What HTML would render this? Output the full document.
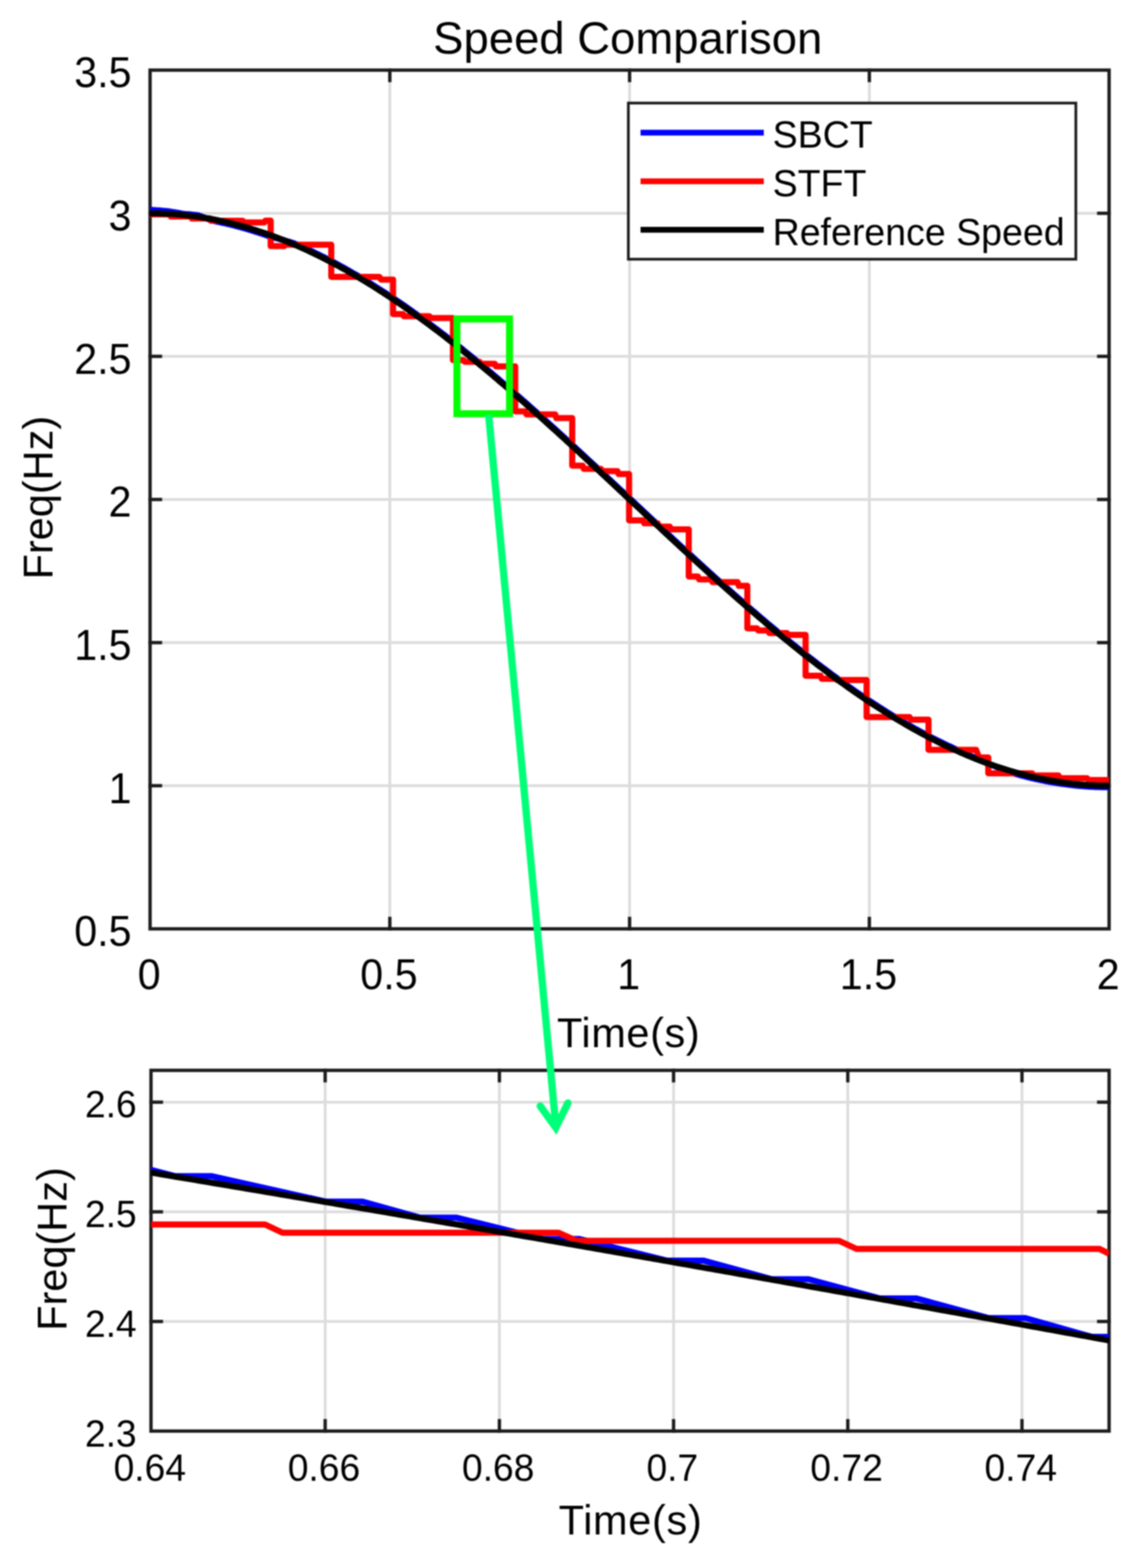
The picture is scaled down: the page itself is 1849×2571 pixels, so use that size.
<!DOCTYPE html>
<html><head><meta charset="utf-8"><title>Speed Comparison</title><style>html,body{margin:0;padding:0;background:#fff;}svg{display:block;filter:blur(0.9px);}</style></head><body>
<svg width="1849" height="2571" viewBox="0 0 1849 2571">
<rect x="0" y="0" width="1849" height="2571" fill="#ffffff"/>
<defs><clipPath id="c1"><rect x="246.0" y="95.0" width="1572.0" height="1428.0"/></clipPath><clipPath id="c2"><rect x="247.5" y="1755.0" width="1570.5" height="591.5"/></clipPath></defs>
<g stroke="#dcdcdc" stroke-width="4.5"><line x1="639.0" y1="115.0" x2="639.0" y2="1523.0"/><line x1="1032.0" y1="115.0" x2="1032.0" y2="1523.0"/><line x1="1425.0" y1="115.0" x2="1425.0" y2="1523.0"/><line x1="246.0" y1="1288.3" x2="1818.0" y2="1288.3"/><line x1="246.0" y1="1053.7" x2="1818.0" y2="1053.7"/><line x1="246.0" y1="819.0" x2="1818.0" y2="819.0"/><line x1="246.0" y1="584.3" x2="1818.0" y2="584.3"/><line x1="246.0" y1="349.7" x2="1818.0" y2="349.7"/></g>
<g stroke="#dcdcdc" stroke-width="4.5"><line x1="533.0" y1="1755.0" x2="533.0" y2="2346.5"/><line x1="818.6" y1="1755.0" x2="818.6" y2="2346.5"/><line x1="1104.1" y1="1755.0" x2="1104.1" y2="2346.5"/><line x1="1389.7" y1="1755.0" x2="1389.7" y2="2346.5"/><line x1="1675.2" y1="1755.0" x2="1675.2" y2="2346.5"/><line x1="247.5" y1="2166.8" x2="1818.0" y2="2166.8"/><line x1="247.5" y1="1987.0" x2="1818.0" y2="1987.0"/><line x1="247.5" y1="1807.2" x2="1818.0" y2="1807.2"/></g>
<g stroke="#1c1c1c" stroke-width="5.5" stroke-linecap="square"><rect x="246.0" y="115.0" width="1572.0" height="1408.0" fill="none"/><line x1="639.0" y1="1523.0" x2="639.0" y2="1506.0"/><line x1="639.0" y1="115.0" x2="639.0" y2="132.0"/><line x1="1032.0" y1="1523.0" x2="1032.0" y2="1506.0"/><line x1="1032.0" y1="115.0" x2="1032.0" y2="132.0"/><line x1="1425.0" y1="1523.0" x2="1425.0" y2="1506.0"/><line x1="1425.0" y1="115.0" x2="1425.0" y2="132.0"/><line x1="246.0" y1="1288.3" x2="263.0" y2="1288.3"/><line x1="1818.0" y1="1288.3" x2="1801.0" y2="1288.3"/><line x1="246.0" y1="1053.7" x2="263.0" y2="1053.7"/><line x1="1818.0" y1="1053.7" x2="1801.0" y2="1053.7"/><line x1="246.0" y1="819.0" x2="263.0" y2="819.0"/><line x1="1818.0" y1="819.0" x2="1801.0" y2="819.0"/><line x1="246.0" y1="584.3" x2="263.0" y2="584.3"/><line x1="1818.0" y1="584.3" x2="1801.0" y2="584.3"/><line x1="246.0" y1="349.7" x2="263.0" y2="349.7"/><line x1="1818.0" y1="349.7" x2="1801.0" y2="349.7"/></g>
<g stroke="#1c1c1c" stroke-width="5.5" stroke-linecap="square"><rect x="247.5" y="1755.0" width="1570.5" height="591.5" fill="none"/><line x1="533.0" y1="2346.5" x2="533.0" y2="2329.5"/><line x1="533.0" y1="1755.0" x2="533.0" y2="1772.0"/><line x1="818.6" y1="2346.5" x2="818.6" y2="2329.5"/><line x1="818.6" y1="1755.0" x2="818.6" y2="1772.0"/><line x1="1104.1" y1="2346.5" x2="1104.1" y2="2329.5"/><line x1="1104.1" y1="1755.0" x2="1104.1" y2="1772.0"/><line x1="1389.7" y1="2346.5" x2="1389.7" y2="2329.5"/><line x1="1389.7" y1="1755.0" x2="1389.7" y2="1772.0"/><line x1="1675.2" y1="2346.5" x2="1675.2" y2="2329.5"/><line x1="1675.2" y1="1755.0" x2="1675.2" y2="1772.0"/><line x1="247.5" y1="2166.8" x2="264.5" y2="2166.8"/><line x1="1818.0" y1="2166.8" x2="1801.0" y2="2166.8"/><line x1="247.5" y1="1987.0" x2="264.5" y2="1987.0"/><line x1="1818.0" y1="1987.0" x2="1801.0" y2="1987.0"/><line x1="247.5" y1="1807.2" x2="264.5" y2="1807.2"/><line x1="1818.0" y1="1807.2" x2="1801.0" y2="1807.2"/></g>
<g clip-path="url(#c1)" fill="none" stroke-width="10" stroke-linejoin="round">
<polyline stroke="#0000ff" points="246.0,344.2 249.1,344.3 252.3,344.5 255.4,344.7 258.6,344.9 261.7,345.1 264.9,345.4 268.0,345.7 271.2,346.0 274.3,346.3 277.4,346.6 280.6,347.1 283.7,347.6 286.9,348.1 290.0,348.7 293.2,349.2 296.3,349.8 299.4,350.4 302.6,350.8 305.7,351.1 308.9,351.3 312.0,351.6 315.2,351.9 318.3,352.2 321.5,352.6 324.6,352.9 327.7,354.1 330.9,355.2 334.0,356.4 337.2,357.6 340.3,358.8 343.5,360.0 346.6,361.3 349.8,362.2 352.9,362.8 356.0,363.5 359.2,364.1 362.3,364.8 365.5,365.5 368.6,366.2 371.8,366.9 374.9,367.7 378.0,368.4 381.2,369.2 384.3,370.0 387.5,370.8 390.6,371.6 393.8,372.5 396.9,373.4 400.1,374.2 403.2,375.1 406.3,376.1 409.5,377.0 412.6,378.0 415.8,378.9 418.9,379.9 422.1,380.9 425.2,381.9 428.4,383.0 431.5,384.0 434.6,385.1 437.8,386.2 440.9,387.3 444.1,388.3 447.2,389.1 450.4,389.9 453.5,390.7 456.6,391.5 459.8,392.4 462.9,393.2 466.1,394.1 469.2,395.0 472.4,396.0 475.5,396.9 478.7,397.9 481.8,398.8 484.9,400.2 488.1,401.5 491.2,402.9 494.4,404.3 497.5,405.7 500.7,407.1 503.8,408.6 507.0,410.1 510.1,411.5 513.2,413.0 516.4,414.5 519.5,416.1 522.7,417.6 525.8,419.2 529.0,420.7 532.1,422.3 535.2,423.9 538.4,425.5 541.5,427.2 544.7,428.8 547.8,430.5 551.0,432.2 554.1,433.9 557.3,435.6 560.4,437.3 563.5,439.0 566.7,440.8 569.8,442.6 573.0,444.4 576.1,446.2 579.3,448.0 582.4,449.8 585.6,451.6 588.7,453.5 591.8,455.4 595.0,457.3 598.1,459.2 601.3,461.1 604.4,463.0 607.6,464.9 610.7,466.9 613.8,468.9 617.0,470.9 620.1,472.9 623.3,474.9 626.4,476.9 629.6,478.9 632.7,481.0 635.9,483.1 639.0,485.1 642.1,487.2 645.3,489.3 648.4,491.4 651.6,493.6 654.7,495.7 657.9,497.9 661.0,500.0 664.2,502.2 667.3,504.4 670.4,506.6 673.6,508.8 676.7,511.1 679.9,513.3 683.0,515.6 686.2,517.8 689.3,520.1 692.4,522.4 695.6,524.7 698.7,527.0 701.9,529.3 705.0,531.7 708.2,534.0 711.3,536.4 714.5,538.8 717.6,541.1 720.7,543.5 723.9,545.9 727.0,548.3 730.2,550.8 733.3,553.2 736.5,555.6 739.6,558.1 742.8,560.6 745.9,563.0 749.0,565.5 752.2,568.0 755.3,570.5 758.5,573.0 761.6,575.6 764.8,578.1 767.9,580.6 771.0,583.2 774.2,585.7 777.3,588.3 780.5,590.9 783.6,593.5 786.8,596.1 789.9,598.7 793.1,601.3 796.2,603.9 799.3,606.6 802.5,609.2 805.6,611.8 808.8,614.5 811.9,617.2 815.1,619.8 818.2,622.5 821.4,625.2 824.5,627.9 827.6,630.6 830.8,633.3 833.9,636.0 837.1,638.8 840.2,641.5 843.4,644.2 846.5,647.0 849.6,649.7 852.8,652.5 855.9,655.2 859.1,658.0 862.2,660.8 865.4,663.6 868.5,666.4 871.7,669.2 874.8,672.0 877.9,674.8 881.1,677.6 884.2,680.4 887.4,683.2 890.5,686.1 893.7,688.9 896.8,691.7 900.0,694.6 903.1,697.4 906.2,700.3 909.4,703.1 912.5,706.0 915.7,708.9 918.8,711.7 922.0,714.6 925.1,717.5 928.2,720.4 931.4,723.3 934.5,726.2 937.7,729.1 940.8,732.0 944.0,734.9 947.1,737.8 950.3,740.7 953.4,743.6 956.5,746.5 959.7,749.4 962.8,752.3 966.0,755.3 969.1,758.2 972.3,761.1 975.4,764.0 978.6,767.0 981.7,769.9 984.8,772.8 988.0,775.8 991.1,778.7 994.3,781.6 997.4,784.6 1000.6,787.5 1003.7,790.5 1006.8,793.4 1010.0,796.4 1013.1,799.3 1016.3,802.3 1019.4,805.2 1022.6,808.2 1025.7,811.1 1028.9,814.1 1032.0,817.0 1035.1,819.9 1038.3,822.9 1041.4,825.8 1044.6,828.8 1047.7,831.7 1050.9,834.7 1054.0,837.6 1057.2,840.6 1060.3,843.5 1063.4,846.5 1066.6,849.4 1069.7,852.4 1072.9,855.3 1076.0,858.2 1079.2,861.2 1082.3,864.1 1085.4,867.0 1088.6,870.0 1091.7,872.9 1094.9,875.8 1098.0,878.7 1101.2,881.7 1104.3,884.6 1107.5,887.5 1110.6,890.4 1113.7,893.3 1116.9,896.2 1120.0,899.1 1123.2,902.0 1126.3,904.9 1129.5,907.8 1132.6,910.7 1135.8,913.6 1138.9,916.5 1142.0,919.4 1145.2,922.3 1148.3,925.1 1151.5,928.0 1154.6,930.9 1157.8,933.7 1160.9,936.6 1164.0,939.4 1167.2,942.3 1170.3,945.1 1173.5,947.9 1176.6,950.8 1179.8,953.6 1182.9,956.4 1186.1,959.2 1189.2,962.0 1192.3,964.8 1195.5,967.6 1198.6,970.4 1201.8,973.2 1204.9,976.0 1208.1,978.8 1211.2,981.5 1214.4,984.3 1217.5,987.0 1220.6,989.8 1223.8,992.5 1226.9,995.2 1230.1,998.0 1233.2,1000.7 1236.4,1003.4 1239.5,1006.1 1242.6,1008.8 1245.8,1011.5 1248.9,1014.2 1252.1,1016.8 1255.2,1019.5 1258.4,1022.2 1261.5,1024.8 1264.7,1027.4 1267.8,1030.1 1270.9,1032.7 1274.1,1035.3 1277.2,1037.9 1280.4,1040.5 1283.5,1043.1 1286.7,1045.7 1289.8,1048.3 1293.0,1050.8 1296.1,1053.4 1299.2,1055.9 1302.4,1058.4 1305.5,1061.0 1308.7,1063.5 1311.8,1066.0 1315.0,1068.5 1318.1,1071.0 1321.2,1073.4 1324.4,1075.9 1327.5,1078.4 1330.7,1080.8 1333.8,1083.2 1337.0,1085.7 1340.1,1088.1 1343.3,1090.5 1346.4,1092.9 1349.5,1095.2 1352.7,1097.6 1355.8,1100.0 1359.0,1102.3 1362.1,1104.7 1365.3,1107.0 1368.4,1109.3 1371.6,1111.6 1374.7,1113.9 1377.8,1116.2 1381.0,1118.4 1384.1,1120.7 1387.3,1122.9 1390.4,1125.2 1393.6,1127.4 1396.7,1129.6 1399.8,1131.8 1403.0,1134.0 1406.1,1136.1 1409.3,1138.3 1412.4,1140.4 1415.6,1142.6 1418.7,1144.7 1421.9,1146.8 1425.0,1148.9 1428.1,1150.9 1431.3,1153.0 1434.4,1155.1 1437.6,1157.1 1440.7,1159.1 1443.9,1161.1 1447.0,1163.1 1450.2,1165.1 1453.3,1167.1 1456.4,1169.1 1459.6,1171.0 1462.7,1172.9 1465.9,1174.8 1469.0,1176.7 1472.2,1178.6 1475.3,1180.5 1478.4,1182.4 1481.6,1184.2 1484.7,1186.0 1487.9,1187.8 1491.0,1189.6 1494.2,1191.4 1497.3,1193.2 1500.5,1195.0 1503.6,1196.7 1506.7,1198.4 1509.9,1200.1 1513.0,1201.8 1516.2,1203.5 1519.3,1205.2 1522.5,1206.8 1525.6,1208.5 1528.8,1210.1 1531.9,1211.7 1535.0,1213.3 1538.2,1214.8 1541.3,1216.4 1544.5,1217.9 1547.6,1219.5 1550.8,1221.0 1553.9,1222.5 1557.0,1223.9 1560.2,1225.4 1563.3,1226.9 1566.5,1228.3 1569.6,1229.7 1572.8,1231.1 1575.9,1232.5 1579.1,1233.8 1582.2,1235.2 1585.3,1236.7 1588.5,1238.1 1591.6,1239.6 1594.8,1241.0 1597.9,1242.5 1601.1,1243.9 1604.2,1245.3 1607.4,1246.6 1610.5,1248.0 1613.6,1249.3 1616.8,1250.7 1619.9,1252.0 1623.1,1253.3 1626.2,1254.6 1629.4,1255.9 1632.5,1257.2 1635.6,1258.4 1638.8,1259.7 1641.9,1260.9 1645.1,1262.1 1648.2,1263.3 1651.4,1264.4 1654.5,1265.6 1657.7,1266.7 1660.8,1267.9 1663.9,1268.8 1667.1,1269.6 1670.2,1270.5 1673.4,1271.4 1676.5,1272.2 1679.7,1273.0 1682.8,1273.8 1686.0,1274.6 1689.1,1275.3 1692.2,1276.1 1695.4,1276.8 1698.5,1277.5 1701.7,1278.2 1704.8,1278.9 1708.0,1279.5 1711.1,1280.2 1714.2,1280.8 1717.4,1281.4 1720.5,1282.0 1723.7,1282.5 1726.8,1283.1 1730.0,1283.6 1733.1,1284.1 1736.3,1284.6 1739.4,1285.1 1742.5,1285.5 1745.7,1285.9 1748.8,1286.4 1752.0,1286.8 1755.1,1287.1 1758.3,1287.5 1761.4,1287.8 1764.6,1288.2 1767.7,1288.5 1770.8,1288.8 1774.0,1289.0 1777.1,1289.3 1780.3,1289.5 1783.4,1289.7 1786.6,1289.9 1789.7,1290.1 1792.8,1290.2 1796.0,1290.4 1799.1,1290.5 1802.3,1290.6 1805.4,1290.7 1808.6,1290.7 1811.7,1290.8 1814.9,1290.8 1818.0,1290.8"/>
<polyline stroke="#ff0000" points="246.0,351.6 279.0,351.6 280.0,355.0 313.5,355.0 314.5,358.3 344.5,358.3 346.0,362.0 398.0,362.0 399.5,364.7 433.5,364.7 435.0,361.8 443.7,361.8 443.7,403.6 466.0,403.6 468.0,401.2 543.0,401.2 543.0,454.0 622.0,454.0 624.5,458.4 644.3,458.4 644.3,515.0 660.5,515.0 662.0,518.5 704.0,518.5 705.5,521.6 742.5,521.6 742.5,590.5 760.0,590.5 762.0,593.3 786.0,593.3 788.0,596.4 811.0,596.4 813.0,600.7 844.5,600.7 844.5,674.5 861.0,674.5 863.0,679.5 910.0,679.5 912.0,685.6 938.0,685.6 938.0,763.5 955.0,763.5 957.0,768.7 985.0,768.7 987.0,772.5 1012.0,772.5 1014.0,777.3 1031.2,777.3 1031.2,853.2 1054.0,853.2 1056.0,858.0 1078.0,858.0 1080.0,863.5 1098.0,863.5 1100.0,868.0 1129.0,868.0 1129.0,945.3 1144.0,945.3 1146.0,950.0 1166.0,950.0 1168.0,954.5 1209.0,954.5 1211.0,960.6 1225.0,960.6 1225.0,1030.2 1241.0,1030.2 1243.0,1033.7 1259.0,1033.7 1261.0,1038.0 1290.0,1038.0 1292.0,1041.0 1320.5,1041.0 1320.5,1108.0 1345.0,1108.0 1347.0,1113.0 1370.0,1113.0 1372.0,1115.0 1420.5,1115.0 1420.5,1175.8 1491.0,1175.8 1493.0,1180.0 1522.0,1180.0 1522.0,1229.5 1600.0,1229.5 1605.0,1242.0 1620.0,1242.0 1620.0,1268.0 1692.0,1268.0 1694.0,1271.5 1735.0,1271.5 1737.0,1276.0 1782.0,1276.0 1784.0,1279.0 1818.0,1279.0"/>
<polyline stroke="#000000" points="246.0,349.7 249.9,349.7 253.9,349.7 257.8,349.8 261.7,349.9 265.6,350.0 269.6,350.2 273.5,350.4 277.4,350.6 281.4,350.8 285.3,351.1 289.2,351.4 293.2,351.7 297.1,352.1 301.0,352.5 304.9,352.9 308.9,353.4 312.8,353.8 316.7,354.3 320.7,354.9 324.6,355.4 328.5,356.0 332.5,356.7 336.4,357.3 340.3,358.0 344.2,358.7 348.2,359.4 352.1,360.2 356.0,361.0 360.0,361.8 363.9,362.6 367.8,363.5 371.8,364.4 375.7,365.3 379.6,366.3 383.5,367.3 387.5,368.3 391.4,369.3 395.3,370.4 399.3,371.5 403.2,372.6 407.1,373.8 411.1,375.0 415.0,376.2 418.9,377.4 422.9,378.7 426.8,380.0 430.7,381.3 434.6,382.6 438.6,384.0 442.5,385.4 446.4,386.8 450.4,388.3 454.3,389.7 458.2,391.2 462.1,392.8 466.1,394.3 470.0,395.9 473.9,397.5 477.9,399.2 481.8,400.8 485.7,402.5 489.7,404.2 493.6,406.0 497.5,407.7 501.5,409.5 505.4,411.3 509.3,413.2 513.2,415.0 517.2,416.9 521.1,418.8 525.0,420.8 529.0,422.7 532.9,424.7 536.8,426.7 540.8,428.8 544.7,430.8 548.6,432.9 552.5,435.0 556.5,437.1 560.4,439.3 564.3,441.5 568.3,443.7 572.2,445.9 576.1,448.2 580.0,450.4 584.0,452.7 587.9,455.0 591.8,457.4 595.8,459.7 599.7,462.1 603.6,464.5 607.6,466.9 611.5,469.4 615.4,471.9 619.3,474.4 623.3,476.9 627.2,479.4 631.1,482.0 635.1,484.5 639.0,487.1 642.9,489.7 646.9,492.4 650.8,495.0 654.7,497.7 658.7,500.4 662.6,503.1 666.5,505.9 670.4,508.6 674.4,511.4 678.3,514.2 682.2,517.0 686.2,519.8 690.1,522.7 694.0,525.6 698.0,528.4 701.9,531.3 705.8,534.3 709.7,537.2 713.7,540.2 717.6,543.1 721.5,546.1 725.5,549.1 729.4,552.2 733.3,555.2 737.2,558.3 741.2,561.3 745.1,564.4 749.0,567.5 753.0,570.6 756.9,573.8 760.8,576.9 764.8,580.1 768.7,583.3 772.6,586.5 776.6,589.7 780.5,592.9 784.4,596.1 788.3,599.4 792.3,602.6 796.2,605.9 800.1,609.2 804.1,612.5 808.0,615.8 811.9,619.2 815.9,622.5 819.8,625.9 823.7,629.2 827.6,632.6 831.6,636.0 835.5,639.4 839.4,642.8 843.4,646.2 847.3,649.7 851.2,653.1 855.1,656.6 859.1,660.0 863.0,663.5 866.9,667.0 870.9,670.5 874.8,674.0 878.7,677.5 882.7,681.0 886.6,684.5 890.5,688.1 894.4,691.6 898.4,695.2 902.3,698.7 906.2,702.3 910.2,705.9 914.1,709.4 918.0,713.0 922.0,716.6 925.9,720.2 929.8,723.8 933.8,727.4 937.7,731.1 941.6,734.7 945.5,738.3 949.5,741.9 953.4,745.6 957.3,749.2 961.3,752.9 965.2,756.5 969.1,760.2 973.1,763.8 977.0,767.5 980.9,771.2 984.8,774.8 988.8,778.5 992.7,782.2 996.6,785.9 1000.6,789.5 1004.5,793.2 1008.4,796.9 1012.4,800.6 1016.3,804.3 1020.2,807.9 1024.1,811.6 1028.1,815.3 1032.0,819.0 1035.9,822.7 1039.9,826.4 1043.8,830.1 1047.7,833.7 1051.7,837.4 1055.6,841.1 1059.5,844.8 1063.4,848.5 1067.4,852.1 1071.3,855.8 1075.2,859.5 1079.2,863.2 1083.1,866.8 1087.0,870.5 1090.9,874.2 1094.9,877.8 1098.8,881.5 1102.7,885.1 1106.7,888.8 1110.6,892.4 1114.5,896.1 1118.5,899.7 1122.4,903.3 1126.3,906.9 1130.2,910.6 1134.2,914.2 1138.1,917.8 1142.0,921.4 1146.0,925.0 1149.9,928.6 1153.8,932.1 1157.8,935.7 1161.7,939.3 1165.6,942.8 1169.6,946.4 1173.5,949.9 1177.4,953.5 1181.3,957.0 1185.3,960.5 1189.2,964.0 1193.1,967.5 1197.1,971.0 1201.0,974.5 1204.9,978.0 1208.8,981.4 1212.8,984.9 1216.7,988.3 1220.6,991.8 1224.6,995.2 1228.5,998.6 1232.4,1002.0 1236.4,1005.4 1240.3,1008.8 1244.2,1012.1 1248.2,1015.5 1252.1,1018.8 1256.0,1022.2 1259.9,1025.5 1263.9,1028.8 1267.8,1032.1 1271.7,1035.4 1275.7,1038.6 1279.6,1041.9 1283.5,1045.1 1287.5,1048.3 1291.4,1051.5 1295.3,1054.7 1299.2,1057.9 1303.2,1061.1 1307.1,1064.2 1311.0,1067.4 1315.0,1070.5 1318.9,1073.6 1322.8,1076.7 1326.8,1079.7 1330.7,1082.8 1334.6,1085.8 1338.5,1088.9 1342.5,1091.9 1346.4,1094.9 1350.3,1097.8 1354.3,1100.8 1358.2,1103.7 1362.1,1106.7 1366.0,1109.6 1370.0,1112.4 1373.9,1115.3 1377.8,1118.2 1381.8,1121.0 1385.7,1123.8 1389.6,1126.6 1393.6,1129.4 1397.5,1132.1 1401.4,1134.9 1405.4,1137.6 1409.3,1140.3 1413.2,1143.0 1417.1,1145.6 1421.1,1148.3 1425.0,1150.9 1428.9,1153.5 1432.9,1156.0 1436.8,1158.6 1440.7,1161.1 1444.6,1163.6 1448.6,1166.1 1452.5,1168.6 1456.4,1171.1 1460.4,1173.5 1464.3,1175.9 1468.2,1178.3 1472.2,1180.6 1476.1,1183.0 1480.0,1185.3 1484.0,1187.6 1487.9,1189.8 1491.8,1192.1 1495.7,1194.3 1499.7,1196.5 1503.6,1198.7 1507.5,1200.9 1511.5,1203.0 1515.4,1205.1 1519.3,1207.2 1523.2,1209.2 1527.2,1211.3 1531.1,1213.3 1535.0,1215.3 1539.0,1217.2 1542.9,1219.2 1546.8,1221.1 1550.8,1223.0 1554.7,1224.8 1558.6,1226.7 1562.5,1228.5 1566.5,1230.3 1570.4,1232.0 1574.3,1233.8 1578.3,1235.5 1582.2,1237.2 1586.1,1238.8 1590.1,1240.5 1594.0,1242.1 1597.9,1243.7 1601.9,1245.2 1605.8,1246.8 1609.7,1248.3 1613.6,1249.7 1617.6,1251.2 1621.5,1252.6 1625.4,1254.0 1629.4,1255.4 1633.3,1256.7 1637.2,1258.0 1641.1,1259.3 1645.1,1260.6 1649.0,1261.8 1652.9,1263.0 1656.9,1264.2 1660.8,1265.4 1664.7,1266.5 1668.7,1267.6 1672.6,1268.7 1676.5,1269.7 1680.5,1270.7 1684.4,1271.7 1688.3,1272.7 1692.2,1273.6 1696.2,1274.5 1700.1,1275.4 1704.0,1276.2 1708.0,1277.0 1711.9,1277.8 1715.8,1278.6 1719.8,1279.3 1723.7,1280.0 1727.6,1280.7 1731.5,1281.3 1735.5,1282.0 1739.4,1282.6 1743.3,1283.1 1747.3,1283.7 1751.2,1284.2 1755.1,1284.6 1759.0,1285.1 1763.0,1285.5 1766.9,1285.9 1770.8,1286.3 1774.8,1286.6 1778.7,1286.9 1782.6,1287.2 1786.6,1287.4 1790.5,1287.6 1794.4,1287.8 1798.4,1288.0 1802.3,1288.1 1806.2,1288.2 1810.1,1288.3 1814.1,1288.3 1818.0,1288.3"/>
</g>
<g clip-path="url(#c2)" fill="none" stroke-width="10" stroke-linejoin="round">
<polyline stroke="#0000ff" points="119.0,1900.5 179.0,1900.5 287.5,1928.6 347.4,1928.6 534.5,1970.3 594.4,1970.3 688.7,1996.6 748.6,1996.6 890.0,2031.5 949.9,2031.5 1092.7,2066.9 1152.7,2066.9 1265.5,2097.5 1325.4,2097.5 1442.5,2129.1 1502.5,2129.1 1621.0,2161.3 1680.9,2161.3 1789.4,2191.9 1849.4,2191.9 1960.8,2223.3 2020.7,2223.3"/>
<polyline stroke="#ff0000" points="247.5,2007.7 434.5,2007.7 463.1,2021.3 915.7,2021.3 945.7,2034.5 1375.4,2034.5 1404.0,2047.8 1802.3,2047.8 1818.0,2055.7 1818.0,2055.7"/>
<polyline stroke="#000000" points="247.5,1922.6 255.4,1923.9 263.2,1925.2 271.1,1926.5 278.9,1927.9 286.8,1929.2 294.6,1930.5 302.5,1931.8 310.3,1933.1 318.2,1934.4 326.0,1935.7 333.9,1937.1 341.7,1938.4 349.6,1939.7 357.4,1941.0 365.3,1942.3 373.1,1943.7 381.0,1945.0 388.8,1946.3 396.7,1947.6 404.6,1949.0 412.4,1950.3 420.3,1951.6 428.1,1952.9 436.0,1954.3 443.8,1955.6 451.7,1956.9 459.5,1958.3 467.4,1959.6 475.2,1960.9 483.1,1962.3 490.9,1963.6 498.8,1964.9 506.6,1966.3 514.5,1967.6 522.3,1968.9 530.2,1970.3 538.0,1971.6 545.9,1972.9 553.7,1974.3 561.6,1975.6 569.5,1977.0 577.3,1978.3 585.2,1979.6 593.0,1981.0 600.9,1982.3 608.7,1983.7 616.6,1985.0 624.4,1986.3 632.3,1987.7 640.1,1989.0 648.0,1990.4 655.8,1991.7 663.7,1993.1 671.5,1994.4 679.4,1995.8 687.2,1997.1 695.1,1998.5 702.9,1999.8 710.8,2001.2 718.7,2002.5 726.5,2003.9 734.4,2005.2 742.2,2006.6 750.1,2007.9 757.9,2009.3 765.8,2010.7 773.6,2012.0 781.5,2013.4 789.3,2014.7 797.2,2016.1 805.0,2017.4 812.9,2018.8 820.7,2020.2 828.6,2021.5 836.4,2022.9 844.3,2024.3 852.1,2025.6 860.0,2027.0 867.8,2028.3 875.7,2029.7 883.6,2031.1 891.4,2032.4 899.3,2033.8 907.1,2035.2 915.0,2036.5 922.8,2037.9 930.7,2039.3 938.5,2040.7 946.4,2042.0 954.2,2043.4 962.1,2044.8 969.9,2046.1 977.8,2047.5 985.6,2048.9 993.5,2050.3 1001.3,2051.6 1009.2,2053.0 1017.0,2054.4 1024.9,2055.8 1032.8,2057.1 1040.6,2058.5 1048.5,2059.9 1056.3,2061.3 1064.2,2062.7 1072.0,2064.0 1079.9,2065.4 1087.7,2066.8 1095.6,2068.2 1103.4,2069.6 1111.3,2071.0 1119.1,2072.3 1127.0,2073.7 1134.8,2075.1 1142.7,2076.5 1150.5,2077.9 1158.4,2079.3 1166.2,2080.7 1174.1,2082.1 1181.9,2083.4 1189.8,2084.8 1197.7,2086.2 1205.5,2087.6 1213.4,2089.0 1221.2,2090.4 1229.1,2091.8 1236.9,2093.2 1244.8,2094.6 1252.6,2096.0 1260.5,2097.4 1268.3,2098.8 1276.2,2100.2 1284.0,2101.6 1291.9,2103.0 1299.7,2104.4 1307.6,2105.8 1315.4,2107.2 1323.3,2108.6 1331.1,2110.0 1339.0,2111.4 1346.8,2112.8 1354.7,2114.2 1362.6,2115.6 1370.4,2117.0 1378.3,2118.4 1386.1,2119.8 1394.0,2121.2 1401.8,2122.6 1409.7,2124.0 1417.5,2125.4 1425.4,2126.8 1433.2,2128.2 1441.1,2129.6 1448.9,2131.0 1456.8,2132.4 1464.6,2133.9 1472.5,2135.3 1480.3,2136.7 1488.2,2138.1 1496.0,2139.5 1503.9,2140.9 1511.8,2142.3 1519.6,2143.7 1527.5,2145.2 1535.3,2146.6 1543.2,2148.0 1551.0,2149.4 1558.9,2150.8 1566.7,2152.2 1574.6,2153.7 1582.4,2155.1 1590.3,2156.5 1598.1,2157.9 1606.0,2159.3 1613.8,2160.8 1621.7,2162.2 1629.5,2163.6 1637.4,2165.0 1645.2,2166.4 1653.1,2167.9 1660.9,2169.3 1668.8,2170.7 1676.7,2172.1 1684.5,2173.6 1692.4,2175.0 1700.2,2176.4 1708.1,2177.8 1715.9,2179.3 1723.8,2180.7 1731.6,2182.1 1739.5,2183.6 1747.3,2185.0 1755.2,2186.4 1763.0,2187.8 1770.9,2189.3 1778.7,2190.7 1786.6,2192.1 1794.4,2193.6 1802.3,2195.0 1810.1,2196.4 1818.0,2197.9"/>
</g>
<g font-family="'Liberation Sans', Arial, Helvetica, sans-serif"><text x="1029.0" y="88.0" font-size="74.5" text-anchor="middle" fill="#000000">Speed Comparison</text><text x="0" y="0" font-size="67.5" text-anchor="end" fill="#000000" transform="translate(215.5 143.2) scale(1 1.045)">3.5</text><text x="0" y="0" font-size="67.5" text-anchor="end" fill="#000000" transform="translate(215.5 377.9) scale(1 1.045)">3</text><text x="0" y="0" font-size="67.5" text-anchor="end" fill="#000000" transform="translate(215.5 612.5) scale(1 1.045)">2.5</text><text x="0" y="0" font-size="67.5" text-anchor="end" fill="#000000" transform="translate(215.5 847.2) scale(1 1.045)">2</text><text x="0" y="0" font-size="67.5" text-anchor="end" fill="#000000" transform="translate(215.5 1081.9) scale(1 1.045)">1.5</text><text x="0" y="0" font-size="67.5" text-anchor="end" fill="#000000" transform="translate(215.5 1316.5) scale(1 1.045)">1</text><text x="0" y="0" font-size="67.5" text-anchor="end" fill="#000000" transform="translate(215.5 1551.2) scale(1 1.045)">0.5</text><text x="0" y="0" font-size="67.5" text-anchor="middle" fill="#000000" transform="translate(244.5 1621.5) scale(1 1.045)">0</text><text x="0" y="0" font-size="67.5" text-anchor="middle" fill="#000000" transform="translate(637.5 1621.5) scale(1 1.045)">0.5</text><text x="0" y="0" font-size="67.5" text-anchor="middle" fill="#000000" transform="translate(1030.5 1621.5) scale(1 1.045)">1</text><text x="0" y="0" font-size="67.5" text-anchor="middle" fill="#000000" transform="translate(1423.5 1621.5) scale(1 1.045)">1.5</text><text x="0" y="0" font-size="67.5" text-anchor="middle" fill="#000000" transform="translate(1816.5 1621.5) scale(1 1.045)">2</text><text x="1030.5" y="1717.3" font-size="68.0" text-anchor="middle" fill="#000000" letter-spacing="1">Time(s)</text><text x="0" y="0" font-size="68.0" text-anchor="middle" fill="#000000" transform="translate(86.3 816) rotate(-90)">Freq(Hz)</text><text x="0" y="0" font-size="61.0" text-anchor="end" fill="#000000" transform="translate(224.0 2371.5) scale(1 1.045)">2.3</text><text x="0" y="0" font-size="61.0" text-anchor="end" fill="#000000" transform="translate(224.0 2191.8) scale(1 1.045)">2.4</text><text x="0" y="0" font-size="61.0" text-anchor="end" fill="#000000" transform="translate(224.0 2012.0) scale(1 1.045)">2.5</text><text x="0" y="0" font-size="61.0" text-anchor="end" fill="#000000" transform="translate(224.0 1832.2) scale(1 1.045)">2.6</text><text x="0" y="0" font-size="61.0" text-anchor="middle" fill="#000000" transform="translate(245.5 2428.0) scale(1 1.045)">0.64</text><text x="0" y="0" font-size="61.0" text-anchor="middle" fill="#000000" transform="translate(531.0 2428.0) scale(1 1.045)">0.66</text><text x="0" y="0" font-size="61.0" text-anchor="middle" fill="#000000" transform="translate(816.6 2428.0) scale(1 1.045)">0.68</text><text x="0" y="0" font-size="61.0" text-anchor="middle" fill="#000000" transform="translate(1102.1 2428.0) scale(1 1.045)">0.7</text><text x="0" y="0" font-size="61.0" text-anchor="middle" fill="#000000" transform="translate(1387.7 2428.0) scale(1 1.045)">0.72</text><text x="0" y="0" font-size="61.0" text-anchor="middle" fill="#000000" transform="translate(1673.2 2428.0) scale(1 1.045)">0.74</text><text x="1033.6" y="2516.4" font-size="68.0" text-anchor="middle" fill="#000000" letter-spacing="1.1">Time(s)</text><text x="0" y="0" font-size="68.0" text-anchor="middle" fill="#000000" transform="translate(109.4 2048) rotate(-90)">Freq(Hz)</text></g>
<rect x="1030" y="169" width="733.5" height="256" fill="#ffffff" stroke="#1c1c1c" stroke-width="4.5"/><line x1="1050" y1="217.5" x2="1252" y2="217.5" stroke="#0000ff" stroke-width="9.5"/><line x1="1050" y1="297.3" x2="1252" y2="297.3" stroke="#ff0000" stroke-width="9.5"/><line x1="1050" y1="376.8" x2="1252" y2="376.8" stroke="#000000" stroke-width="9.5"/><g font-family="'Liberation Sans', Arial, Helvetica, sans-serif"><text x="0" y="0" font-size="61.5" fill="#000000" transform="translate(1266.5 241.8) scale(1 1.025)">SBCT</text><text x="0" y="0" font-size="61.5" fill="#000000" transform="translate(1266.5 322.3) scale(1 1.025)">STFT</text><text x="0" y="0" font-size="61.5" fill="#000000" transform="translate(1266.5 402.0) scale(1 1.025)">Reference Speed</text></g>
<rect x="749" y="523" width="86.2" height="155.4" fill="none" stroke="#00ff00" stroke-width="11.5"/>
<g fill="none" stroke="#00ff78" stroke-width="12" stroke-linecap="round" stroke-linejoin="miter" stroke-miterlimit="10"><line x1="801" y1="680" x2="911.0" y2="1845.0" stroke-linecap="butt"/><polyline points="885.5,1813.5 911.0,1849.0 931,1808.5"/></g>
</svg>
</body></html>
